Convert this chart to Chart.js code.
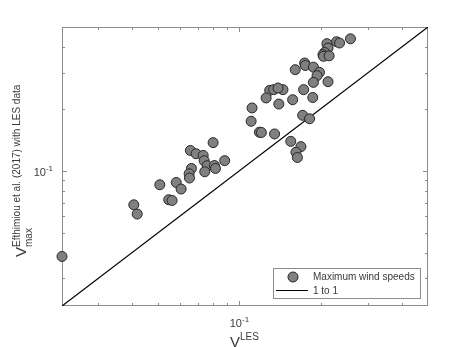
<!DOCTYPE html>
<html>
<head>
<meta charset="utf-8">
<script src="https://cdn.jsdelivr.net/npm/chart.js@4"></script>
<style>
body { margin: 0; background: #fff; }
</style>
</head>
<body>
<canvas id="chart" width="474" height="347"></canvas>
<script>
// V LES (x) against V max Efthimiou et al. (2017) with LES data (y)
const lesSpeed = [0.258, 0.229, 0.235, 0.211, 0.213, 0.207, 0.204, 0.205, 0.215, 0.1745,
  0.1755, 0.161, 0.188, 0.198, 0.194, 0.188, 0.213, 0.173, 0.187, 0.1575,
  0.145, 0.1295, 0.134, 0.139, 0.1256, 0.140, 0.1114, 0.1105, 0.1716, 0.182,
  0.1186, 0.1206, 0.135, 0.155, 0.169, 0.162, 0.164, 0.0799, 0.0658, 0.0691,
  0.0734, 0.074, 0.0882, 0.0759, 0.0808, 0.0815, 0.0664, 0.0744, 0.0651, 0.0653,
  0.0583, 0.0507, 0.0608, 0.0547, 0.0563, 0.0406, 0.0418, 0.0220];
const efthSpeed = [0.438, 0.424, 0.418, 0.415, 0.395, 0.376, 0.367, 0.360, 0.362, 0.334,
  0.325, 0.310, 0.319, 0.301, 0.290, 0.269, 0.271, 0.248, 0.227, 0.2215,
  0.248, 0.246, 0.248, 0.2525, 0.226, 0.211, 0.202, 0.174, 0.186, 0.179,
  0.154, 0.1535, 0.151, 0.139, 0.131, 0.123, 0.116, 0.137, 0.1255, 0.121,
  0.1187, 0.112, 0.112, 0.1058, 0.106, 0.1026, 0.1026, 0.0989, 0.0967, 0.0922,
  0.0877, 0.0855, 0.0815, 0.0723, 0.0717, 0.0683, 0.0616, 0.0383];
const oneToOne = [0.022, 0.5];
const axisMin = 0.022, axisMax = 0.5;

const minorTicks = [0.03, 0.04, 0.05, 0.06, 0.07, 0.08, 0.09, 0.2, 0.3, 0.4];
const majorTicks = [0.1];
const majorBase = ['10'];
const majorExp = ['-1'];
const seriesLabels = ['Maximum wind speeds', '1 to 1'];

const boxColor = '#8c8c8c';
const textColor = '#3a3a3a';
const markFill = '#808080';
const markEdge = '#262626';

function richText(ctx, parts, x, y) {
  let cx = x;
  parts.forEach(p => {
    ctx.font = p.size + 'px "Liberation Sans", Arial, sans-serif';
    ctx.fillText(p.t, cx + (p.dx || 0), y + (p.dy || 0));
    if (!p.noAdvance) cx += ctx.measureText(p.t).width;
  });
  return cx - x;
}

const frame = {
  id: 'frame',
  beforeDatasetsDraw(chart) {
    const {ctx, chartArea: a} = chart;
    ctx.save();
    ctx.strokeStyle = boxColor;
    ctx.lineWidth = 1;
    ctx.strokeRect(a.left + 0.5, a.top + 0.5, a.right - a.left - 1, a.bottom - a.top - 1);
    const xs = chart.scales.x, ys = chart.scales.y;
    ctx.beginPath();
    const all = minorTicks.map(v => [v, 3]).concat(majorTicks.map(v => [v, 5]));
    all.forEach(([v, len]) => {
      const px = Math.round(xs.getPixelForValue(v)) + 0.5;
      ctx.moveTo(px, a.bottom); ctx.lineTo(px, a.bottom - len);
      ctx.moveTo(px, a.top); ctx.lineTo(px, a.top + len);
      const py = Math.round(ys.getPixelForValue(v)) + 0.5;
      ctx.moveTo(a.left, py); ctx.lineTo(a.left + len, py);
      ctx.moveTo(a.right, py); ctx.lineTo(a.right - len, py);
    });
    ctx.stroke();
    ctx.restore();
  },
  afterDraw(chart) {
    const {ctx, chartArea: a} = chart;
    const xs = chart.scales.x, ys = chart.scales.y;
    ctx.save();
    ctx.fillStyle = textColor;
    ctx.textBaseline = 'alphabetic';
    ctx.textAlign = 'left';

    // tick labels
    majorTicks.forEach((v, i) => {
      const px = xs.getPixelForValue(v);
      ctx.font = '11px "Liberation Sans", Arial, sans-serif';
      const w1 = ctx.measureText(majorBase[i]).width;
      ctx.font = '8px "Liberation Sans", Arial, sans-serif';
      const w2 = ctx.measureText(majorExp[i]).width;
      const x0 = px - (w1 + w2) / 2;
      richText(ctx, [{t: majorBase[i], size: 11}, {t: majorExp[i], size: 8, dy: -5}], x0, a.bottom + 21);
      const py = ys.getPixelForValue(v);
      richText(ctx, [{t: majorBase[i], size: 11}, {t: majorExp[i], size: 8, dy: -5}], a.left - 9 - w1 - w2, py + 5);
    });

    // x title
    richText(ctx, [{t: 'V', size: 15}, {t: 'LES', size: 10, dy: -7}], 230, 347);

    // y title, rotated
    ctx.save();
    ctx.translate(26, 257);
    ctx.rotate(-Math.PI / 2);
    richText(ctx, [
      {t: 'V', size: 15},
      {t: 'max', size: 10, dy: 6, noAdvance: true},
      {t: 'Efthimiou et al. (2017) with LES data', size: 10, dy: -6}
    ], 0, 0);
    ctx.restore();

    // legend
    const lx = 273.5, ly = 268.5, lw = 147, lh = 30;
    ctx.fillStyle = '#fff';
    ctx.fillRect(lx, ly, lw, lh);
    ctx.strokeStyle = boxColor;
    ctx.lineWidth = 1;
    ctx.strokeRect(lx, ly, lw, lh);
    ctx.beginPath();
    ctx.arc(293, 277, 5, 0, Math.PI * 2);
    ctx.fillStyle = markFill;
    ctx.fill();
    ctx.strokeStyle = markEdge;
    ctx.stroke();
    ctx.beginPath();
    ctx.moveTo(276, 290.5); ctx.lineTo(308, 290.5);
    ctx.strokeStyle = '#000';
    ctx.stroke();
    ctx.fillStyle = textColor;
    ctx.textBaseline = 'middle';
    ctx.font = '10px "Liberation Sans", Arial, sans-serif';
    ctx.fillText(seriesLabels[0], 313, 277.5);
    ctx.fillText(seriesLabels[1], 313, 291);
    ctx.restore();
  }
};

new Chart(document.getElementById('chart'), {
  type: 'scatter',
  data: {
    datasets: [{
      label: seriesLabels[0],
      data: lesSpeed.map((v, i) => ({x: v, y: efthSpeed[i]})),
      backgroundColor: markFill,
      borderColor: markEdge,
      borderWidth: 1,
      pointRadius: 5,
      clip: false,
      order: 1
    }, {
      type: 'line',
      label: seriesLabels[1],
      data: oneToOne.map(v => ({x: v, y: v})),
      borderColor: '#000',
      borderWidth: 1.2,
      pointRadius: 0,
      fill: false,
      order: 2
    }]
  },
  options: {
    responsive: false,
    animation: false,
    layout: {
      padding: {left: 62, right: 46, top: 27, bottom: 41}
    },
    plugins: {
      legend: {display: false},
      tooltip: {enabled: false}
    },
    scales: {
      x: {type: 'logarithmic', min: axisMin, max: axisMax, display: false},
      y: {type: 'logarithmic', min: axisMin, max: axisMax, display: false}
    }
  },
  plugins: [frame]
});
</script>
</body>
</html>
